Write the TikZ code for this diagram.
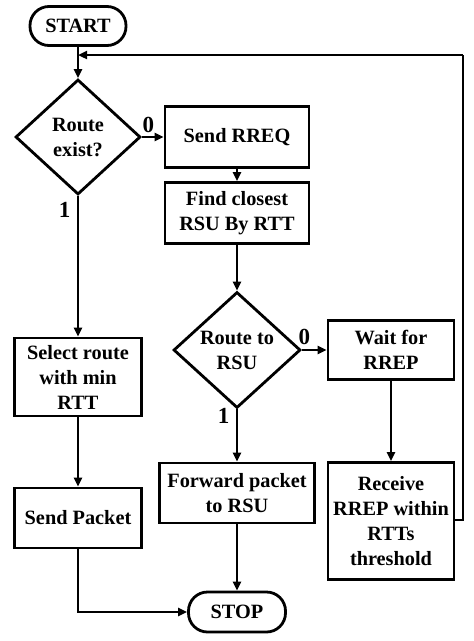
\documentclass[tikz,border=0pt]{standalone}
\usepackage{fontspec}
\setmainfont{Liberation Serif}
\usetikzlibrary{shapes.geometric,arrows.meta}
\begin{document}
\begin{tikzpicture}[x=1pt,y=-1pt,
  base/.style={draw,line width=2.8pt,align=center,font=\fontsize{20.3}{25}\selectfont\bfseries,inner sep=0pt},
  box/.style={base,rectangle},
  term/.style={base,rectangle,rounded corners=19pt},
  dec/.style={base,diamond},
  lbl/.style={font=\fontsize{23}{24}\selectfont\bfseries},
  arr/.style={line width=2.8pt,-{Triangle[length=9pt,width=8pt]}},
  ln/.style={line width=2.8pt}]
\useasboundingbox (0,0) rectangle (474,641);
\node[term,minimum width=96pt,minimum height=39pt] (start) at (78,26) {START};
\node[dec,minimum width=125pt,minimum height=115pt] (d1) at (78,137) {Route\\exist?};
\node[box,minimum width=144pt,minimum height=61pt] (rreq) at (237,137) {Send RREQ};
\node[box,minimum width=144pt,minimum height=61pt] (find) at (237,213) {Find closest\\RSU By RTT};
\node[dec,minimum width=127pt,minimum height=116pt] (d2) at (237,350) {Route to\\RSU};
\node[box,minimum width=126pt,minimum height=59pt] (wait) at (391,350) {Wait for\\RREP};
\node[box,minimum width=126pt,minimum height=117pt] (recv) at (391,521) {Receive\\RREP within\\RTTs\\threshold};
\node[box,minimum width=155pt,minimum height=60pt] (fwd) at (237,493) {Forward packet\\to RSU};
\node[term,minimum width=97pt,minimum height=40pt] (stop) at (237,612) {STOP};
\node[box,minimum width=127pt,minimum height=78pt] (sel) at (78,377) {Select route\\with min\\RTT};
\node[box,minimum width=127pt,minimum height=60pt] (sendp) at (78,518) {Send Packet};
\coordinate (fbr) at (463,520);
\coordinate (fbt) at (463,55);
\coordinate (fbl) at (78,55);
\draw[arr] (start) -- (d1);
\draw[arr] (d1) -- (rreq) node[lbl,pos=0.3,above=0pt] {0};
\draw[arr] (rreq) -- (find);
\draw[arr] (find) -- (d2);
\draw[arr] (d2) -- (wait) node[lbl,pos=0.1,above=1pt] {0};
\draw[arr] (wait) -- (recv);
\draw[arr] (d2) -- (fwd) node[lbl,pos=0.12,left=3pt] {1};
\draw[arr] (fwd) -- (stop);
\draw[arr] (d1) -- (sel) node[lbl,pos=0.1,left=3pt] {1};
\draw[arr] (sel) -- (sendp);
\draw[arr] (sendp.south) |- (stop.west);
\draw[ln] (recv.east |- fbr) -- (fbr) -- (fbt);
\draw[arr] (fbt) -- (fbl);
\end{tikzpicture}
\end{document}
